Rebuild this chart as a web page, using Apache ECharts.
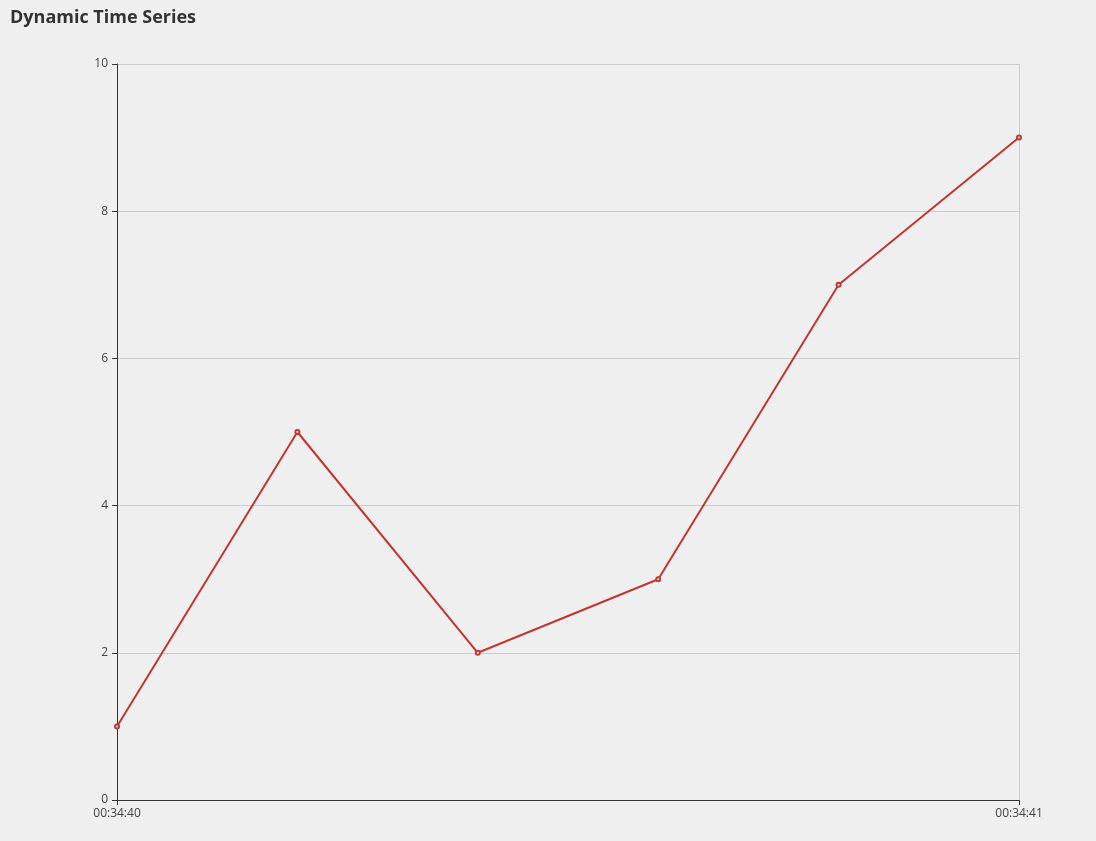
<!DOCTYPE html>
<html>
<head>
<meta charset="utf-8">
<style>
  html, body { margin: 0; padding: 0; background: #efefef; }
  #chart { width: 1096px; height: 841px; }
</style>
<script src="https://cdn.jsdelivr.net/npm/echarts@6/dist/echarts.min.js"></script>
</head>
<body>
<div id="chart"></div>
<script>
// time offsets in ms from 00:34:40
const times = [0, 200, 400, 600, 800, 1000];
const values = [1, 5, 2, 3, 7, 9];
const timeLabels = ['00:34:40', '00:34:41'];

const chart = echarts.init(document.getElementById('chart'));

const option = {
  backgroundColor: '#efefef',
  textStyle: { fontFamily: '"Open Sans", "Noto Sans", sans-serif' },
  title: {
    text: 'Dynamic Time Series',
    left: 5,
    top: 4,
    textStyle: { fontSize: 18, fontWeight: 'bold', color: '#333' }
  },
  grid: { left: 117, right: 77, top: 64, bottom: 41 },
  xAxis: {
    type: 'value',
    min: 0,
    max: 1000,
    interval: 1000,
    axisLine: { lineStyle: { color: '#333' } },
    axisTick: { lineStyle: { color: '#333' } },
    axisLabel: {
      color: '#444',
      fontSize: 12,
      margin: 8,
      formatter: v => timeLabels[v / 1000]
    },
    splitLine: { show: true, lineStyle: { color: '#ccc' } }
  },
  yAxis: {
    type: 'value',
    min: 0,
    max: 10,
    interval: 2,
    axisLine: { show: true, lineStyle: { color: '#333' } },
    axisTick: { show: true, lineStyle: { color: '#333' } },
    axisLabel: { color: '#444', fontSize: 12, margin: 9 },
    splitLine: { lineStyle: { color: '#ccc' } }
  },
  series: [{
    type: 'line',
    data: times.map((t, i) => [t, values[i]]),
    symbol: 'emptyCircle',
    symbolSize: 4,
    showSymbol: true,
    itemStyle: { color: '#c23531' },
    lineStyle: { color: '#c23531', width: 2 },
    animation: false
  }]
};

chart.setOption(option);
window.addEventListener('resize', () => chart.resize());
</script>
</body>
</html>
